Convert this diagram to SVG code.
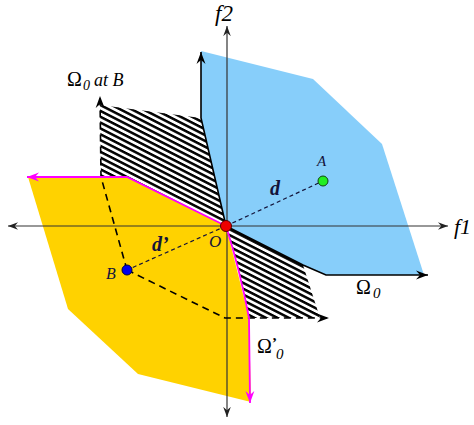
<svg xmlns="http://www.w3.org/2000/svg" width="474" height="425" viewBox="0 0 474 425">
<defs>
<pattern id="hatch" patternUnits="userSpaceOnUse" width="10" height="5.2" patternTransform="rotate(27)">
<rect x="0" y="0" width="10" height="2.5" fill="#000"/>
</pattern>
<marker id="ah" viewBox="-12 -5 13 10" refX="0" refY="0" markerWidth="13" markerHeight="10" markerUnits="userSpaceOnUse" orient="auto">
<path d="M0,0 L-12,-4.5 L-8,0 L-12,4.5 z" fill="#000"/>
</marker>
<marker id="ahm" viewBox="-12 -5 13 10" refX="0" refY="0" markerWidth="13" markerHeight="10" markerUnits="userSpaceOnUse" orient="auto">
<path d="M0,0 L-12,-4.5 L-8,0 L-12,4.5 z" fill="#ff00ff"/>
</marker>
<marker id="aht" viewBox="-12 -5 13 10" refX="0" refY="0" markerWidth="11" markerHeight="9" markerUnits="userSpaceOnUse" orient="auto">
<path d="M0,0 L-12,-4.5 L-8,0 L-12,4.5 z" fill="#222"/>
</marker>
</defs>
<style>
text{font-family:"Liberation Serif","Times New Roman",serif;fill:#000}
.it{font-style:italic}
.lbl{font-style:italic;fill:#14143a}
.axis{stroke:#333;stroke-width:1.2;fill:none}
.bnd{stroke:#000;stroke-width:1.6;fill:none}
.dash{stroke:#000;stroke-width:1.6;fill:none;stroke-dasharray:7,5}
.dd{stroke:#14143a;stroke-width:1.2;fill:none;stroke-dasharray:4,3}
.mag{stroke:#ff00ff;stroke-width:1.8;fill:none}
</style>
<g id="region-omega0">
<polygon points="201,51 313,79 382,144 424,275 326,275 303,265 226,226 201,118" fill="#87cefa"/>
</g>
<g id="region-omega0-prime">
<polygon points="28,177 127,177 226,226 249,318 251,402 138,374 68,309" fill="#ffd200"/>
</g>
<g id="hatch-omega0-at-B">
<polygon points="100,105 201,118 226,226 127,177 101,177" fill="url(#hatch)"/>
</g>
<g id="hatch-lower">
<path d="M226,226 L303,265 L320,318 L249,318 Q240,270 226,226 z" fill="url(#hatch)"/>
</g>
<g id="axes">
<line class="axis" x1="226" y1="226" x2="8" y2="226" marker-end="url(#aht)"/>
<line class="axis" x1="226" y1="226" x2="448" y2="226" marker-end="url(#aht)"/>
<line class="axis" x1="227" y1="226" x2="227" y2="26" marker-end="url(#aht)"/>
<line class="axis" x1="227" y1="226" x2="227" y2="417" marker-end="url(#aht)"/>
</g>
<g id="connectors">
<path class="bnd" d="M226,226 L201,118 L201,52" marker-end="url(#ah)"/>
<path class="bnd" d="M226,226 L303,265 L326,275 L428,275" marker-end="url(#ah)"/>
<path class="dash" d="M127,270 L101,177 L100,96" marker-end="url(#ah)"/>
<path class="dash" d="M127,270 L225,318 L329,318" marker-end="url(#ah)"/>
<path class="mag" d="M226,226 L127,177 L27,177" marker-end="url(#ahm)"/>
<path class="mag" d="M226,226 Q240,270 249,318 L250,403" marker-end="url(#ahm)"/>
<line class="dd" x1="226" y1="226" x2="323" y2="181"/>
<line class="dd" x1="226" y1="226" x2="127" y2="270"/>
</g>
<g id="point-A"><circle cx="323" cy="181" r="5" fill="#22ee22" stroke="#114411" stroke-width="1"/></g>
<g id="point-B"><circle cx="127" cy="270" r="5" fill="#0000ee" stroke="#000044" stroke-width="1"/></g>
<g id="point-O"><circle cx="226" cy="226" r="5.5" fill="#ee0000" stroke="#550000" stroke-width="1"/></g>
<g id="labels">
<text class="it" x="215" y="21" font-size="23">f2</text>
<text class="it" x="454" y="234" font-size="22">f1</text>
<text x="67" y="86" font-size="20">Ω<tspan class="it" font-size="14" dy="4" dx="1">0</tspan><tspan class="it" font-size="18" dy="-4" dx="4">at B</tspan></text>
<text x="356" y="294" font-size="20">Ω<tspan class="it" font-size="15" dy="4" dx="2">0</tspan></text>
<text x="257" y="353" font-size="20">Ω<tspan font-weight="bold" font-size="15" dy="-5">’</tspan></text>
<text class="it" x="276" y="359" font-size="15">0</text>
<text class="lbl" x="317" y="166" font-size="15">A</text>
<text class="lbl" x="106" y="279" font-size="16">B</text>
<text class="lbl" x="209" y="247" font-size="17">O</text>
<text class="lbl" x="270" y="195" font-size="20" font-weight="bold">d</text>
<text class="lbl" x="152" y="251" font-size="20" font-weight="bold">d’</text>
</g>
</svg>
